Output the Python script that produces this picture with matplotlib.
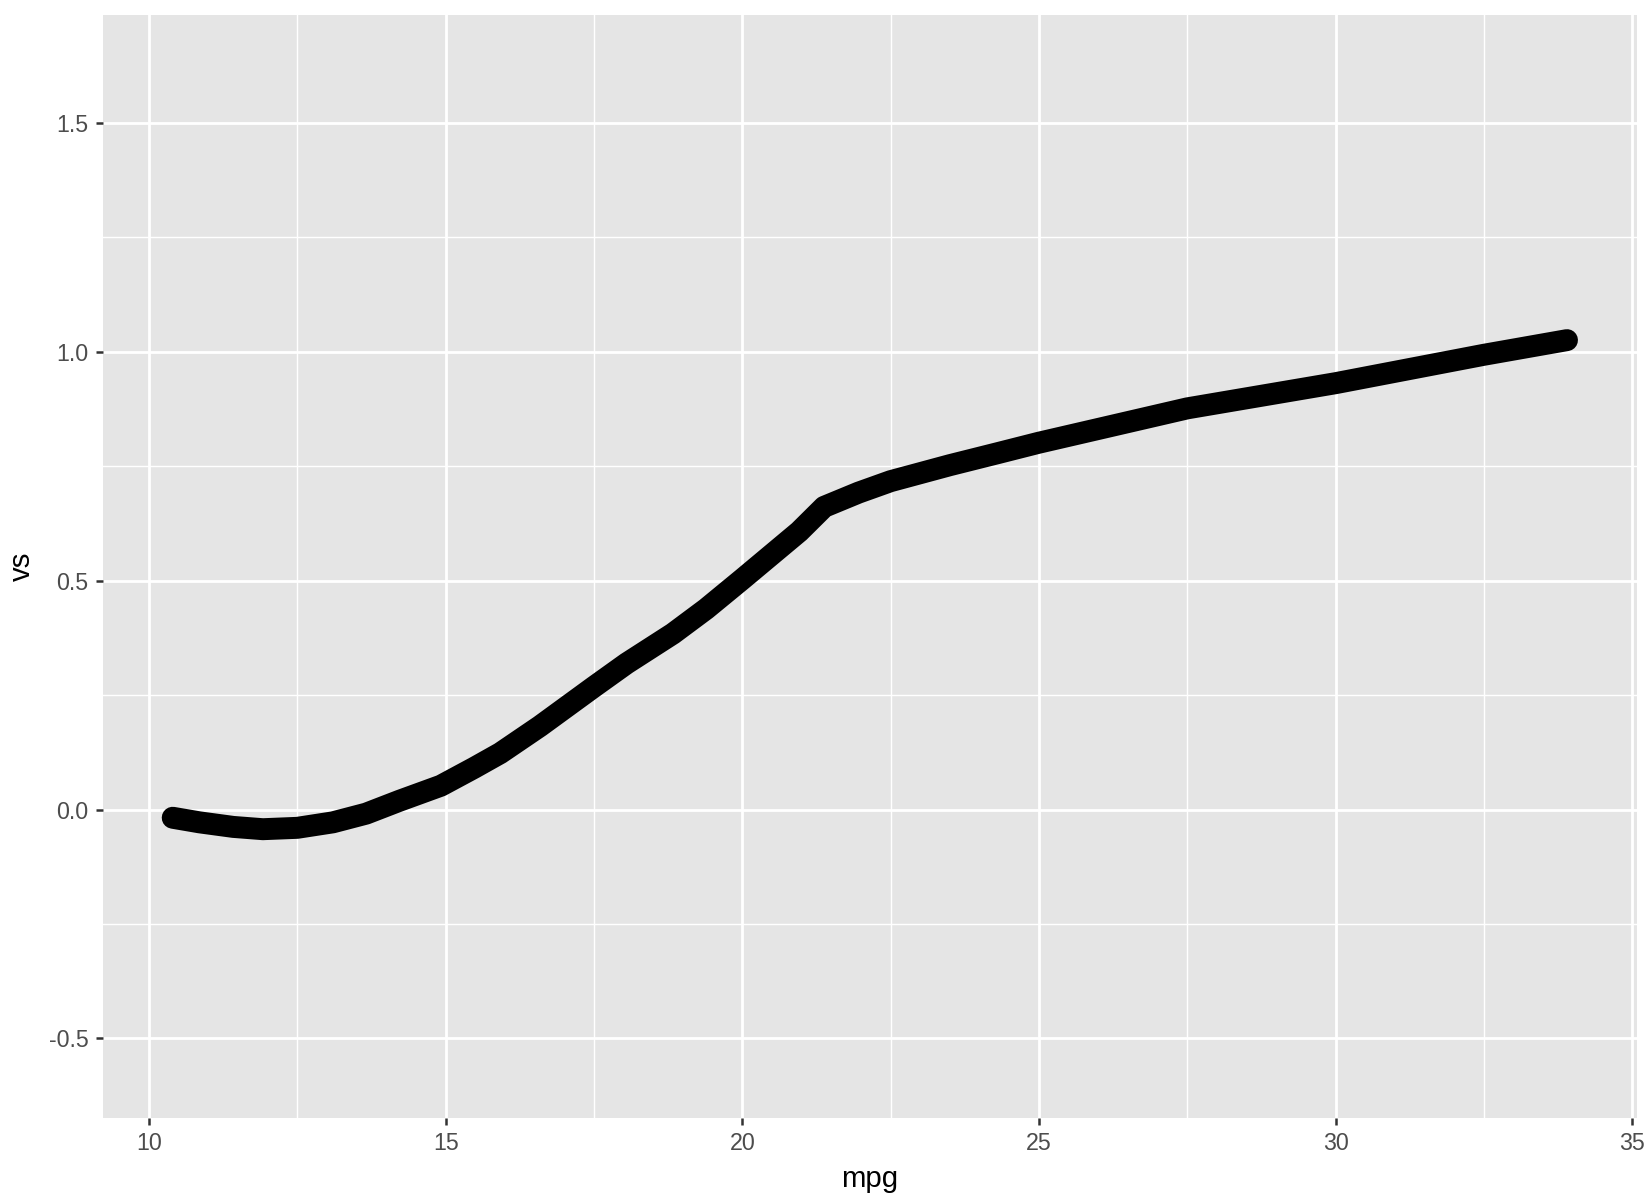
import matplotlib
matplotlib.use("Agg")
import matplotlib.pyplot as plt
from matplotlib.ticker import FixedLocator

# Data (smooth of vs vs mpg)
mpg = [10.4, 10.85, 11.42, 11.92, 12.5, 13.1, 13.66, 14.22, 14.92, 15.48, 15.92,
       16.59, 17.5, 18.05, 18.83, 19.39, 20.0, 20.96, 21.38, 21.96, 22.5, 23.5,
       24.3, 25.0, 27.5, 30.0, 32.5, 33.9]
vs = [-0.018, -0.028, -0.038, -0.043, -0.040, -0.028, -0.009, 0.019, 0.052, 0.091,
      0.123, 0.182, 0.268, 0.319, 0.384, 0.438, 0.503, 0.607, 0.661, 0.692, 0.717,
      0.752, 0.778, 0.801, 0.876, 0.931, 0.993, 1.025]

x_major = [10, 15, 20, 25, 30, 35]
x_minor = [12.5, 17.5, 22.5, 27.5, 32.5]
y_major = [-0.5, 0.0, 0.5, 1.0, 1.5]
y_minor = [-0.25, 0.25, 0.75, 1.25]
y_labels = ["-0.5", "0.0", "0.5", "1.0", "1.5"]

W, H, DPI = 1652, 1202, 200
plt.rcParams['font.family'] = ['Liberation Sans', 'DejaVu Sans']
fig = plt.figure(figsize=(W / DPI, H / DPI), dpi=DPI)

left, right, top, bottom = 103, 1636.7, 15, 1117.7
ax = fig.add_axes([left / W, (H - bottom) / H, (right - left) / W, (bottom - top) / H])
ax.set_facecolor('#E5E5E5')
for s in ax.spines.values():
    s.set_visible(False)

ax.set_xlim(9.225, 35.075)
ax.set_ylim(-0.673, 1.735)

ax.xaxis.set_major_locator(FixedLocator(x_major))
ax.xaxis.set_minor_locator(FixedLocator(x_minor))
ax.yaxis.set_major_locator(FixedLocator(y_major))
ax.yaxis.set_minor_locator(FixedLocator(y_minor))
ax.set_yticklabels(y_labels)
ax.set_xticklabels([str(v) for v in x_major])

ax.grid(which='major', color='white', linewidth=1.0)
ax.grid(which='minor', color='white', linewidth=0.5)
ax.set_axisbelow(True)

ax.tick_params(which='major', length=2.6, width=0.9, color='#333333',
               labelcolor='#4D4D4D', labelsize=8.4, pad=2.6)
ax.tick_params(which='minor', length=0)

ax.plot(mpg, vs, color='black', linewidth=7.9, solid_capstyle='round',
        solid_joinstyle='round')

ax.set_xlabel('mpg', fontsize=10.6, color='black', labelpad=3.5)
ax.set_ylabel('vs', fontsize=10.6, color='black', labelpad=4.5)

fig.savefig('out.png', dpi=DPI)
